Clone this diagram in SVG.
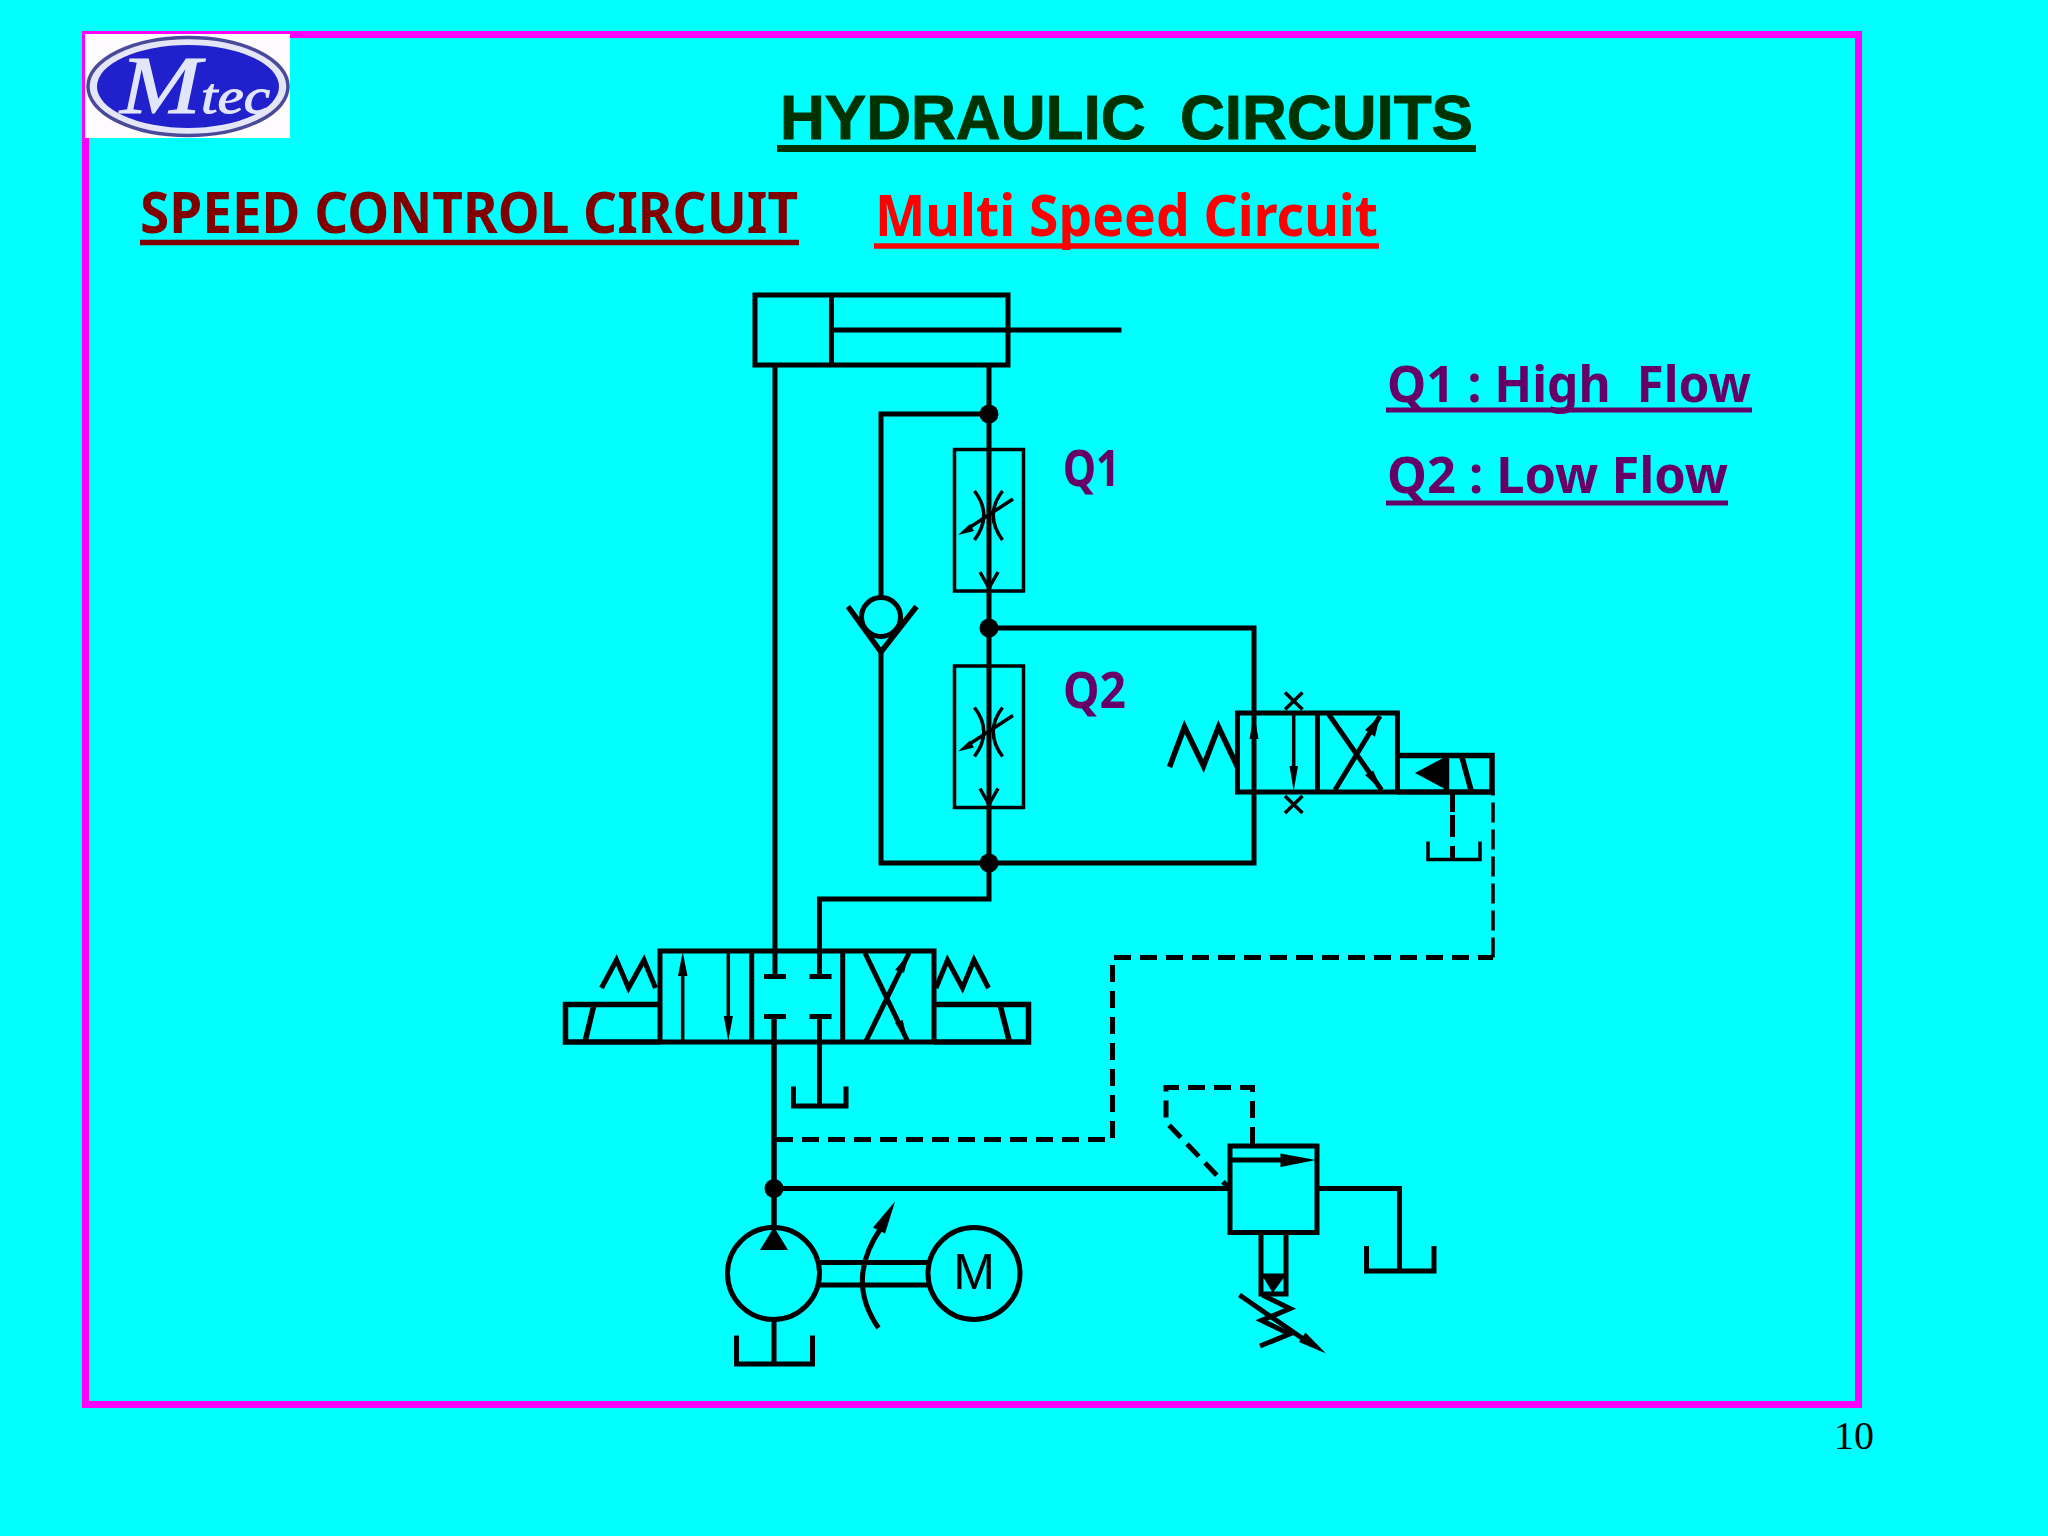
<svg xmlns="http://www.w3.org/2000/svg" width="2048" height="1536" viewBox="0 0 2048 1536">
<style>
.s{fill:none;stroke:#000;stroke-width:5;stroke-linejoin:miter;stroke-linecap:butt}
.t{stroke-width:3.5}
.h{stroke-width:5.5}
.f{fill:#000;stroke:none}
.d{fill:none;stroke:#000;stroke-width:5;stroke-dasharray:17 9}
.dl{fill:none;stroke:#000;stroke-width:3.5;stroke-dasharray:20 7}
.tt{font-family:"Noto Sans","DejaVu Sans",sans-serif;font-weight:bold}
.p{fill:#660066}
</style>
<defs>
<g id="throttle">
<rect class="s t" x="954.5" y="449.5" width="69" height="141.5"/>
<path class="s t" d="M974.5 491Q993 515 974.5 540M1002.5 491Q984 515 1002.5 540M1013 499L968 528.5M980 572L989 588L998 572"/>
<path class="f" d="M958 535L970 524L974 531Z"/>
</g>
</defs>
<rect width="2048" height="1536" fill="#00ffff"/>
<rect id="frame" x="85.5" y="34.5" width="1773" height="1370" fill="none" stroke="#ff00ff" stroke-width="7"/>

<g id="logo">
<rect x="85" y="34" width="205" height="104" fill="#fdfbfd"/>
<ellipse cx="188" cy="86.5" rx="100" ry="49" fill="#e4e6f8" stroke="#4a4a9a" stroke-width="3.5"/>
<ellipse cx="188" cy="86.5" rx="91" ry="41.5" fill="#2020cc"/>
<text x="120" y="113" font-family="Liberation Serif,serif" font-style="italic" fill="#e2e6fb" stroke="#e2e6fb" stroke-width="1" textLength="150" lengthAdjust="spacingAndGlyphs"><tspan font-size="82">M</tspan><tspan font-size="50">tec</tspan></text>
</g>

<g id="titles">
<text x="780" y="139" font-family="Liberation Sans,sans-serif" font-weight="bold" font-size="63" fill="#003300" stroke="#003300" stroke-width="1" xml:space="preserve" textLength="693" lengthAdjust="spacingAndGlyphs">HYDRAULIC  CIRCUITS</text>
<line x1="777" y1="148.5" x2="1476" y2="148.5" stroke="#003300" stroke-width="7"/>
<text class="tt" x="140" y="233" font-size="57" fill="#800000" textLength="658" lengthAdjust="spacingAndGlyphs">SPEED CONTROL CIRCUIT</text>
<line x1="140" y1="242.5" x2="799" y2="242.5" stroke="#800000" stroke-width="5.5"/>
<text class="tt" x="875" y="236" font-size="57" fill="#ff0000" textLength="503" lengthAdjust="spacingAndGlyphs">Multi Speed Circuit</text>
<line x1="874" y1="246" x2="1379" y2="246" stroke="#ff0000" stroke-width="5.5"/>
<text class="tt p" x="1387" y="402" font-size="51" xml:space="preserve" textLength="364" lengthAdjust="spacingAndGlyphs">Q1 : High  Flow</text>
<line x1="1386" y1="410" x2="1752" y2="410" stroke="#660066" stroke-width="5"/>
<text class="tt p" x="1387" y="493" font-size="51" textLength="341" lengthAdjust="spacingAndGlyphs">Q2 : Low Flow</text>
<line x1="1386" y1="503" x2="1728" y2="503" stroke="#660066" stroke-width="5"/>
<text id="label-q1" class="tt p" x="1063" y="486" font-size="51" textLength="57" lengthAdjust="spacingAndGlyphs">Q1</text>
<text id="label-q2" class="tt p" x="1063" y="708" font-size="51" textLength="63" lengthAdjust="spacingAndGlyphs">Q2</text>
<text id="page" x="1834" y="1449" font-family="Liberation Serif,serif" font-size="40" fill="#000">10</text>
</g>

<g id="connectors">
<path class="s" d="M775 365V977"/>
<path class="s" d="M989 365V863V899H819.5V977"/>
<path class="s" d="M989 414H881V600M881 652V863H1254V628H989"/>
<path class="s h" d="M774 1017V1228"/>
<path class="s" d="M774 1188.5H1229"/>
<path class="s" d="M1317 1188.5H1399.5V1271"/>
<path class="d" d="M776 1139.5H1112.5V957.5H1493"/>
<path class="dl" d="M1493 957.5V793"/>
<path class="d" d="M1252.5 1144V1087.5H1166V1122L1228.5 1187.5"/>
<path class="s" d="M1452.5 794V812M1452.5 815V837M1452.5 846V860"/>
<circle class="f" cx="989" cy="414" r="9.5"/>
<circle class="f" cx="989" cy="628" r="9.5"/>
<circle class="f" cx="989" cy="863" r="9.5"/>
<circle class="f" cx="774" cy="1188.5" r="9.5"/>
</g>

<g id="cylinder">
<rect class="s" x="755" y="295" width="253" height="70"/>
<path class="s" d="M831.5 295V365M832 330H1121.5"/>
</g>

<g id="throttle-q1"><use href="#throttle"/></g>
<g id="throttle-q2"><use href="#throttle" transform="translate(0 216.5)"/></g>

<g id="check-valve">
<circle class="s" cx="881" cy="617" r="19.5"/>
<path class="s h" d="M848 606.5L881 652L916.5 606.5"/>
</g>

<g id="solenoid-valve">
<rect class="s" x="1237.5" y="713" width="160" height="79"/>
<path class="s" d="M1317.5 713V792"/>
<path class="s t" d="M1293.7 712V770M1285 692.5L1302.5 709.5M1302.5 692.5L1285 709.5M1285 796L1302.5 813M1302.5 796L1285 813"/>
<path class="f" d="M1254 713L1258.5 739H1249.5ZM1293.7 791L1289.5 766H1298Z"/>
<path class="s" d="M1328.5 714L1381.5 790M1335 790L1380 716"/>
<path class="f" d="M1380 715.7L1375 736.7L1365 730ZM1381.7 790L1365 775L1373.3 770.7Z"/>
<path class="s h" d="M1169.5 767L1184.5 727L1203.5 766L1218.5 727L1237.5 767"/>
<path class="s h" d="M1397.5 755.5H1492V792H1397.5M1446.5 755.5V792M1461.5 755.5L1471.5 792"/>
<path class="f" d="M1415 773L1445 757V789Z"/>
<path class="s t" d="M1428 841.5V859.5H1480V841.5"/>
</g>

<g id="directional-valve">
<rect class="s" x="660" y="951" width="274" height="91"/>
<path class="s" d="M751.7 951V1042M842.7 951V1042"/>
<path class="s t" d="M682.7 965V1042M728.3 951V1025"/>
<path class="f" d="M682.7 952L687.5 976H678ZM728.3 1041L723.7 1016H732.9Z"/>
<path class="s" d="M764 976.5H786M809.5 976.5H831.5M764 1016.5H786M809.5 1016.5H831.5"/>
<path class="s" d="M819.5 1017V1106M865 953L907.5 1041M866 1041L909 953"/>
<path class="f" d="M909.3 953L904 972.7L895 970ZM907.3 1040L895 1023L902.7 1020Z"/>
<path class="s" d="M793.5 1086.5V1106H846V1086.5"/>
<path class="s h" d="M660 1004.5H565.5V1042H660M594 1004.5L585 1042M934 1004.5H1028.5V1042H934M1000 1004.5L1009.5 1042"/>
<path class="s" d="M601.5 988L616.5 960L628.5 988L644 960L655.5 988M936 988L947.5 960L962.5 988L974 960L988.5 988"/>
</g>

<g id="pump">
<circle class="s" cx="773.5" cy="1273.5" r="46"/>
<path class="f" d="M774 1227L760 1250H788Z"/>
<path class="s" d="M774 1320V1364M736.5 1335.5V1364H812.5V1335.5"/>
</g>

<g id="shaft">
<path class="s" d="M820 1262.5H928M820 1285H928M878.5 1328Q845 1280 881 1228"/>
<path class="f" d="M895 1201.5L873 1227.5L885 1233.5Z"/>
</g>

<g id="motor">
<circle class="s" cx="974" cy="1273.5" r="46"/>
<text x="974" y="1289" text-anchor="middle" font-family="Liberation Sans,sans-serif" font-size="50" fill="#000">M</text>
</g>

<g id="relief-valve">
<rect class="s" x="1230" y="1146" width="87" height="86.5"/>
<path class="s" d="M1231 1160H1285"/>
<path class="f" d="M1316 1160L1280.5 1153.5V1167Z"/>
<path class="s" d="M1261 1233V1294H1286V1233M1261 1276H1286M1239.5 1295L1312 1345"/>
<path class="f" d="M1272.7 1293L1262.5 1276H1285ZM1326 1353.5L1299 1342L1305.5 1332.5Z"/>
<path class="s" d="M1262.5 1295L1290 1308.5L1261.5 1320.5L1289.5 1334L1260 1346"/>
<path class="s" d="M1366.5 1246V1271H1434V1246"/>
</g>
</svg>
